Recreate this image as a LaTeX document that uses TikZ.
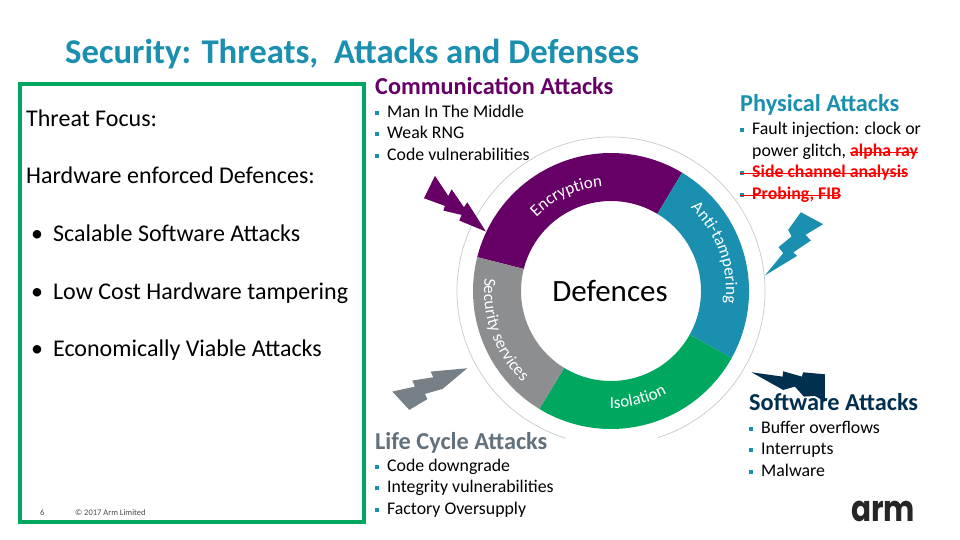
\documentclass[tikz,border=0pt]{standalone}
\usepackage{fontspec}
\setmainfont{Carlito}
\newfontfamily\logofont{Poppins}
\usepackage{xcolor}
\usetikzlibrary{positioning,decorations.text}
\definecolor{armblue}{HTML}{1A8FAF}
\definecolor{armpurple}{HTML}{660066}
\definecolor{armgrey}{HTML}{8C8E90}
\definecolor{armgreen}{HTML}{00A85F}
\definecolor{armnavy}{HTML}{002F4F}
\newsavebox{\strkbox}
\newcommand{\sqb}{\textcolor{armblue}{\rule[2.5pt]{4pt}{4pt}}\hspace{8pt}}
\newcommand{\strk}[1]{\sbox{\strkbox}{#1}\usebox{\strkbox}\llap{\textcolor{red}{\rule[3.6pt]{\wd\strkbox}{1pt}}}}
\newcommand{\ringseg}[3]{\fill[#3] (ctr)++(#1:138pt) arc[start angle=#1,end angle=#2,radius=138pt] -- ++(#2:-48pt) arc[start angle=#2,end angle=#1,radius=90pt] -- cycle;}
\newcommand{\ringlabel}[4]{\path[decorate,decoration={text along path,text align=center,text={|\fontsize{17}{17}\selectfont\color{white}|#4}}] (ctr)++(#1:#3) arc[start angle=#1,end angle=#2,radius=#3];}

\begin{document}
\begin{tikzpicture}[x=1pt,y=-1pt,
  headtext/.style={anchor=base west, inner sep=0pt, font=\fontsize{24.3}{24}\selectfont\bfseries},
  listtext/.style={anchor=north west, inner sep=0pt, align=left, font=\fontsize{17.8}{21.6}\selectfont},
  plaintext/.style={anchor=base west, inner sep=0pt, font=\fontsize{24}{24}\selectfont},
  foottext/.style={anchor=base west, inner sep=0pt, font=\fontsize{8.5}{9}\selectfont, text=black!70}]
\useasboundingbox (0,0) rectangle (960,540);
\fill[white] (0,0) rectangle (960,540);
\coordinate (ctr) at (611,291);

% left box
\draw[armgreen, line width=4pt] (20,84) rectangle (364,522);
\node[anchor=base west, inner sep=0pt, text=armblue, font=\fontsize{34.7}{35}\selectfont\bfseries] (title) at (65,64) {Security: Threats,\ \ Attacks and Defenses};
\node[plaintext] (focus) at (26,127) {Threat Focus:};
\node[plaintext] (hwdef) at (26,183) {Hardware enforced Defences:};
\node[plaintext] (scal) at (31,241) {\textbullet\hspace{10pt}Scalable Software Attacks};
\node[plaintext] (low) at (31,299) {\textbullet\hspace{10pt}Low Cost Hardware tampering};
\node[plaintext] (econ) at (31,356) {\textbullet\hspace{10pt}Economically Viable Attacks};
\node[foottext] (page) at (40,515) {6};
\node[foottext] (copy) at (75,515) {© 2017 Arm Limited};

% ring
\draw[armblue!35!black!25, line width=.7pt] (ctr)++(-72.5:154pt) arc[start angle=-72.5,end angle=253,radius=154pt];
\ringseg{59}{165.8}{armpurple}
\ringseg{-29}{59}{armblue}
\ringseg{238.7}{331}{armgreen}
\ringseg{165.8}{238.7}{armgrey}
\ringlabel{165}{65}{105pt}{Encryption}
\ringlabel{69}{-29}{115pt}{Anti-tampering}
\ringlabel{155}{245}{127pt}{Security services}
\ringlabel{-120}{-32}{117pt}{Isolation}
\node[inner sep=0pt, font=\fontsize{31}{31}\selectfont] (def) at (610,291) {Defences};

% bolts
\begin{scope}[x=.333pt, y=-.333pt, shift={(400pt,-120pt)}]
\fill[armpurple] (105,168) -- (145,228) -- (155,208) -- (192,262) -- (202,247) -- (258,335) -- (178,302) -- (185,285) -- (130,272) -- (135,258) -- (72,235) -- cycle;
\end{scope}
\begin{scope}[x=.333pt, y=-.333pt, shift={(640pt,-90pt)}]
\fill[armblue] (483,367) -- (550,403) -- (497,435) -- (513,452) -- (460,488) -- (472,498) -- (375,557) -- (430,490) -- (416,472) -- (455,440) -- (445,420) -- cycle;
\end{scope}
\begin{scope}[x=.333pt, y=-.333pt, shift={(380pt,-290pt)}]
\fill[armgrey!85!armnavy] (262,235) -- (188,297) -- (135,312) -- (142,328) -- (88,360) -- (37,305) -- (105,290) -- (97,272) -- (160,262) -- (152,245) -- cycle;
\end{scope}
\begin{scope}[x=.333pt, y=-.333pt, shift={(680pt,-340pt)}]
\fill[armnavy] (215,97) -- (308,110) -- (310,94) -- (366,110) -- (370,97) -- (435,103) -- (435,185) -- (405,168) -- (372,170) -- (345,140) -- (310,150) -- cycle;
\end{scope}

% attack groups
\node[headtext, text=armpurple] (comm) at (375,95) {Communication Attacks};
\node[listtext, below=9.5pt of comm.base west, anchor=north west] (commlist) {\sqb Man In The Middle\\\sqb Weak RNG\\\sqb Code vulnerabilities};
\node[headtext, text=armblue] (phys) at (740,112) {Physical Attacks};
\node[listtext, below=10pt of phys.base west, anchor=north west] (physlist) {\sqb Fault injection: clock or\\\hspace{12pt}power glitch, \strk{\textcolor{red}{\textbf{alpha ray}}}\\\strk{\sqb\textcolor{red}{\textbf{Side channel analysis}}}\\\strk{\sqb\textcolor{red}{\textbf{Probing, FIB}}}};
\node[headtext, text=armnavy] (soft) at (749,410) {Software Attacks};
\node[listtext, below=10.5pt of soft.base west, anchor=north west] (softlist) {\sqb Buffer overflows\\\sqb Interrupts\\\sqb Malware};
\node[headtext, text=armgrey!70!armnavy] (life) at (375,449) {Life Cycle Attacks};
\node[listtext, below=9.5pt of life.base west, anchor=north west] (lifelist) {\sqb Code downgrade\\\sqb Integrity vulnerabilities\\\sqb Factory Oversupply};
\node[anchor=base west, inner sep=0pt, text=black!85, font=\logofont\fontsize{36}{36}\selectfont\bfseries] (logo) at (851,521) {\scalebox{.82}[1]{arm}};
\end{tikzpicture}
\end{document}
